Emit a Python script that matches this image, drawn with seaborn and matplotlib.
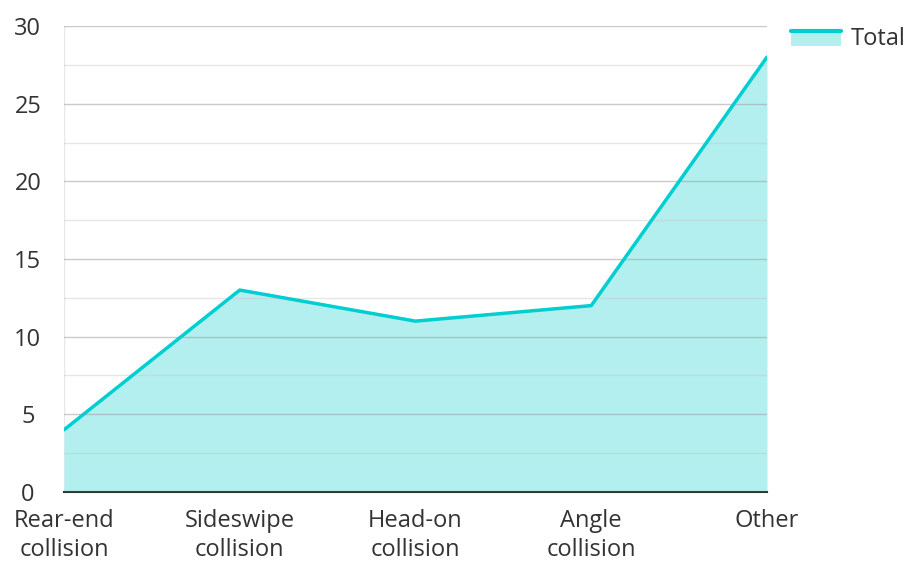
import numpy as np
import pandas as pd
import matplotlib
matplotlib.use("Agg")
import matplotlib.pyplot as plt
import seaborn as sns
from matplotlib.lines import Line2D
from matplotlib.patches import Rectangle
from matplotlib.legend_handler import HandlerBase

categories = ["Rear-end\ncollision", "Sideswipe\ncollision", "Head-on\ncollision",
              "Angle\ncollision", "Other"]
totals = [4, 13, 11, 12, 28]

line_color = "#00CED1"
fill_color = "#B2EFEE"
text_color = "#333333"

sns.set_theme(style="white")
plt.rcParams["font.family"] = ["Open Sans", "Noto Sans", "DejaVu Sans"]


class AreaHandler(HandlerBase):
    # line on top of a filled patch, like an area-series legend key
    def create_artists(self, legend, orig_handle, xdescent, ydescent,
                       width, height, fontsize, trans):
        rect = Rectangle((-xdescent, -ydescent), width, height,
                         facecolor=fill_color, edgecolor="none", transform=trans)
        line = Line2D([-xdescent, -xdescent + width],
                      [-ydescent + height * 0.85] * 2,
                      color=line_color, linewidth=3, transform=trans)
        return [rect, line]


df = pd.DataFrame({"x": np.arange(len(categories)), "total": totals})

fig = plt.figure(figsize=(9.05, 5.62), dpi=100)
ax = fig.add_axes([0.0707, 0.1246, 0.7768, 0.8291])

ax.fill_between(df["x"], 0, df["total"], color=fill_color, zorder=1, linewidth=0)
sns.lineplot(data=df, x="x", y="total", ax=ax, color=line_color, linewidth=2.5,
             zorder=3, legend=False)

ax.set_xlim(0, len(categories) - 1)
ax.set_ylim(0, 30)
ax.set_yticks(np.arange(0, 31, 5))
ax.set_yticks(np.arange(2.5, 30, 5), minor=True)
ax.set_xticks(df["x"])
ax.set_xticklabels(categories, linespacing=1.3)

ax.grid(True, axis="y", which="major", color="#a0a0a0", linewidth=1, alpha=0.55, zorder=2)
ax.grid(True, axis="y", which="minor", color="#c8c8c8", linewidth=1, alpha=0.45, zorder=2)
ax.set_axisbelow(False)

for side in ["top", "right", "left"]:
    ax.spines[side].set_visible(False)
ax.spines["bottom"].set_color(text_color)
ax.spines["bottom"].set_linewidth(1.5)
ax.axvline(0, color="#e8e8e8", linewidth=1, zorder=0)

ax.tick_params(axis="both", which="both", length=0, labelsize=17, labelcolor=text_color)
ax.tick_params(axis="y", pad=26)
ax.tick_params(axis="x", pad=12)
for lbl in ax.get_yticklabels():
    lbl.set_horizontalalignment("center")
ax.set_xlabel("")
ax.set_ylabel("")

leg = fig.legend([object()], ["Total"], loc="upper left", bbox_to_anchor=(0.864, 0.968),
                 frameon=False, fontsize=17, handlelength=2.1, handleheight=0.75,
                 handletextpad=0.4, borderaxespad=0, labelcolor=text_color,
                 handler_map={object: AreaHandler()})

fig.savefig("out.png", dpi=100)
